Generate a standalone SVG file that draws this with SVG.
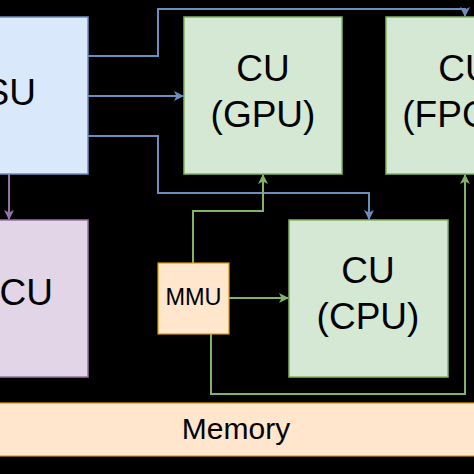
<svg xmlns="http://www.w3.org/2000/svg" width="474" height="474" viewBox="0 0 474 474">
<defs>
<marker id="ab" markerWidth="10" markerHeight="10" refX="9" refY="5" orient="auto" markerUnits="userSpaceOnUse"><path d="M0,0 L10,5 L0,10 L2.5,5 Z" fill="#6c8ebf"/></marker>
<marker id="ag" markerWidth="10" markerHeight="10" refX="9" refY="5" orient="auto" markerUnits="userSpaceOnUse"><path d="M0,0 L10,5 L0,10 L2.5,5 Z" fill="#82b366"/></marker>
<marker id="ap" markerWidth="10" markerHeight="10" refX="9" refY="5" orient="auto" markerUnits="userSpaceOnUse"><path d="M0,0 L10,5 L0,10 L2.5,5 Z" fill="#9673a6"/></marker>
</defs>
<style>
text{font-family:"Liberation Sans",Arial,sans-serif;fill:#000}
.big{font-size:37px;text-anchor:middle}
.blue{fill:none;stroke:#6c8ebf;stroke-width:2}
.green{fill:none;stroke:#82b366;stroke-width:2}
.purple{fill:none;stroke:#9673a6;stroke-width:2}
.gbox{fill:#d5e8d4;stroke:#82b366;stroke-width:1.5}
</style>
<rect width="474" height="474" fill="#000"/>
<g id="connectors">
<path class="blue" d="M88,56 H158 V9 H465 V16" marker-end="url(#ab)"/>
<path class="blue" d="M88,96 H183" marker-end="url(#ab)"/>
<path class="blue" d="M88,136 H158 V193 H369 V219" marker-end="url(#ab)"/>
<path class="purple" d="M9,174 V219" marker-end="url(#ap)"/>
<path class="green" d="M193,263 V211 H263 V175" marker-end="url(#ag)"/>
<path class="green" d="M229,298 H288" marker-end="url(#ag)"/>
<path class="green" d="M211,334 V394 H465 V175" marker-end="url(#ag)"/>
</g>
<g id="su">
<rect x="-80" y="17" width="168" height="157" fill="#dae8fc" stroke="#6c8ebf" stroke-width="1.5"/>
<text x="36" y="105" style="font-size:37px;text-anchor:end">SU</text>
</g>
<g id="cu-left">
<rect x="-80" y="220" width="168" height="157" fill="#e1d5e7" stroke="#9673a6" stroke-width="1.5"/>
<text x="53" y="305" style="font-size:37px;text-anchor:end">CU</text>
</g>
<g id="cu-gpu">
<rect class="gbox" x="184" y="17" width="158" height="157"/>
<text class="big" x="263" y="81">CU</text>
<text class="big" x="263" y="127">(GPU)</text>
</g>
<g id="cu-fpga">
<rect class="gbox" x="386" y="17" width="158" height="157"/>
<text class="big" x="465" y="81">CU</text>
<text class="big" x="465" y="127">(FPGA)</text>
</g>
<g id="cu-cpu">
<rect class="gbox" x="289" y="220" width="159" height="157"/>
<text class="big" x="368" y="283">CU</text>
<text class="big" x="368" y="329">(CPU)</text>
</g>
<g id="mmu">
<rect x="158" y="263" width="71" height="71" fill="#ffe6cc" stroke="#d79b00" stroke-width="1.2"/>
<text x="193.5" y="305" style="font-size:23.5px;text-anchor:middle">MMU</text>
</g>
<g id="memory">
<rect x="-5" y="403" width="484" height="53" fill="#ffe6cc" stroke="#d79b00" stroke-width="1.2"/>
<text x="236" y="439" style="font-size:30px;text-anchor:middle">Memory</text>
</g>
</svg>
